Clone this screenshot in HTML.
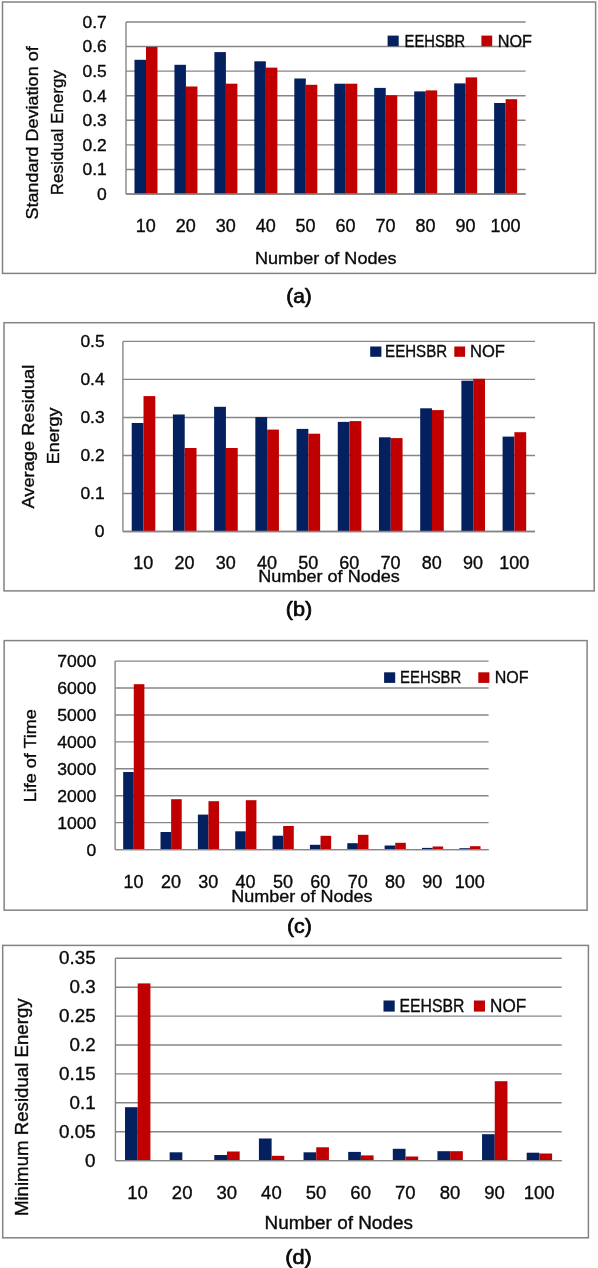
<!DOCTYPE html>
<html lang="en"><head><meta charset="utf-8"><title>Figure</title>
<style>
html,body{margin:0;padding:0;background:#fff}
svg{display:block}
svg text{font-family:"Liberation Sans", Arial, sans-serif;fill:#0a0a0a}
</style></head><body>
<svg width="598" height="1268" viewBox="0 0 598 1268">
<rect width="598" height="1268" fill="#fff"/>
<rect x="2.5" y="2.0" width="593.10" height="271.40" fill="#fff" stroke="#838383" stroke-width="1.5"/>
<line x1="126.00" y1="22.00" x2="525.60" y2="22.00" stroke="#868686" stroke-width="1.4"/>
<line x1="126.00" y1="46.57" x2="525.60" y2="46.57" stroke="#868686" stroke-width="1.4"/>
<line x1="126.00" y1="71.14" x2="525.60" y2="71.14" stroke="#868686" stroke-width="1.4"/>
<line x1="126.00" y1="95.71" x2="525.60" y2="95.71" stroke="#868686" stroke-width="1.4"/>
<line x1="126.00" y1="120.29" x2="525.60" y2="120.29" stroke="#868686" stroke-width="1.4"/>
<line x1="126.00" y1="144.86" x2="525.60" y2="144.86" stroke="#868686" stroke-width="1.4"/>
<line x1="126.00" y1="169.43" x2="525.60" y2="169.43" stroke="#868686" stroke-width="1.4"/>
<line x1="126.00" y1="194.00" x2="525.60" y2="194.00" stroke="#868686" stroke-width="1.4"/>
<line x1="126.00" y1="22.00" x2="126.00" y2="194.00" stroke="#868686" stroke-width="1.4"/>
<text x="106.80" y="27.90" font-size="17.0" text-anchor="end" textLength="24.20" lengthAdjust="spacingAndGlyphs" stroke="#0a0a0a" stroke-width="0.35">0.7</text>
<text x="106.80" y="52.47" font-size="17.0" text-anchor="end" textLength="24.20" lengthAdjust="spacingAndGlyphs" stroke="#0a0a0a" stroke-width="0.35">0.6</text>
<text x="106.80" y="77.04" font-size="17.0" text-anchor="end" textLength="24.20" lengthAdjust="spacingAndGlyphs" stroke="#0a0a0a" stroke-width="0.35">0.5</text>
<text x="106.80" y="101.61" font-size="17.0" text-anchor="end" textLength="24.20" lengthAdjust="spacingAndGlyphs" stroke="#0a0a0a" stroke-width="0.35">0.4</text>
<text x="106.80" y="126.19" font-size="17.0" text-anchor="end" textLength="24.20" lengthAdjust="spacingAndGlyphs" stroke="#0a0a0a" stroke-width="0.35">0.3</text>
<text x="106.80" y="150.76" font-size="17.0" text-anchor="end" textLength="24.20" lengthAdjust="spacingAndGlyphs" stroke="#0a0a0a" stroke-width="0.35">0.2</text>
<text x="106.80" y="175.33" font-size="17.0" text-anchor="end" textLength="24.20" lengthAdjust="spacingAndGlyphs" stroke="#0a0a0a" stroke-width="0.35">0.1</text>
<text x="106.80" y="199.90" font-size="17.0" text-anchor="end" textLength="9.75" lengthAdjust="spacingAndGlyphs" stroke="#0a0a0a" stroke-width="0.35">0</text>
<rect x="134.48" y="59.80" width="11.50" height="134.20" fill="#04205f"/>
<rect x="145.98" y="46.90" width="11.50" height="147.10" fill="#c00000"/>
<rect x="174.44" y="64.80" width="11.50" height="129.20" fill="#04205f"/>
<rect x="185.94" y="86.50" width="11.50" height="107.50" fill="#c00000"/>
<rect x="214.40" y="52.10" width="11.50" height="141.90" fill="#04205f"/>
<rect x="225.90" y="83.70" width="11.50" height="110.30" fill="#c00000"/>
<rect x="254.36" y="61.30" width="11.50" height="132.70" fill="#04205f"/>
<rect x="265.86" y="67.60" width="11.50" height="126.40" fill="#c00000"/>
<rect x="294.32" y="78.50" width="11.50" height="115.50" fill="#04205f"/>
<rect x="305.82" y="84.80" width="11.50" height="109.20" fill="#c00000"/>
<rect x="334.28" y="83.70" width="11.50" height="110.30" fill="#04205f"/>
<rect x="345.78" y="83.70" width="11.50" height="110.30" fill="#c00000"/>
<rect x="374.24" y="87.90" width="11.50" height="106.10" fill="#04205f"/>
<rect x="385.74" y="95.30" width="11.50" height="98.70" fill="#c00000"/>
<rect x="414.20" y="91.40" width="11.50" height="102.60" fill="#04205f"/>
<rect x="425.70" y="90.40" width="11.50" height="103.60" fill="#c00000"/>
<rect x="454.16" y="83.40" width="11.50" height="110.60" fill="#04205f"/>
<rect x="465.66" y="77.40" width="11.50" height="116.60" fill="#c00000"/>
<rect x="494.12" y="103.00" width="11.50" height="91.00" fill="#04205f"/>
<rect x="505.62" y="99.20" width="11.50" height="94.80" fill="#c00000"/>
<line x1="126.00" y1="194.00" x2="525.60" y2="194.00" stroke="#868686" stroke-width="1.4"/>
<text x="145.78" y="231.80" font-size="17.5" text-anchor="middle" textLength="20.00" lengthAdjust="spacingAndGlyphs" stroke="#0a0a0a" stroke-width="0.35">10</text>
<text x="185.74" y="231.80" font-size="17.5" text-anchor="middle" textLength="20.00" lengthAdjust="spacingAndGlyphs" stroke="#0a0a0a" stroke-width="0.35">20</text>
<text x="225.70" y="231.80" font-size="17.5" text-anchor="middle" textLength="20.00" lengthAdjust="spacingAndGlyphs" stroke="#0a0a0a" stroke-width="0.35">30</text>
<text x="265.66" y="231.80" font-size="17.5" text-anchor="middle" textLength="20.00" lengthAdjust="spacingAndGlyphs" stroke="#0a0a0a" stroke-width="0.35">40</text>
<text x="305.62" y="231.80" font-size="17.5" text-anchor="middle" textLength="20.00" lengthAdjust="spacingAndGlyphs" stroke="#0a0a0a" stroke-width="0.35">50</text>
<text x="345.58" y="231.80" font-size="17.5" text-anchor="middle" textLength="20.00" lengthAdjust="spacingAndGlyphs" stroke="#0a0a0a" stroke-width="0.35">60</text>
<text x="385.54" y="231.80" font-size="17.5" text-anchor="middle" textLength="20.00" lengthAdjust="spacingAndGlyphs" stroke="#0a0a0a" stroke-width="0.35">70</text>
<text x="425.50" y="231.80" font-size="17.5" text-anchor="middle" textLength="20.00" lengthAdjust="spacingAndGlyphs" stroke="#0a0a0a" stroke-width="0.35">80</text>
<text x="465.46" y="231.80" font-size="17.5" text-anchor="middle" textLength="20.00" lengthAdjust="spacingAndGlyphs" stroke="#0a0a0a" stroke-width="0.35">90</text>
<text x="505.42" y="231.80" font-size="17.5" text-anchor="middle" textLength="30.00" lengthAdjust="spacingAndGlyphs" stroke="#0a0a0a" stroke-width="0.35">100</text>
<text x="255.00" y="263.90" font-size="17.4" textLength="141.60" lengthAdjust="spacingAndGlyphs" stroke="#0a0a0a" stroke-width="0.35">Number of Nodes</text>
<text transform="translate(38.10 219.60) rotate(-90)" font-size="17.4" textLength="173.30" lengthAdjust="spacingAndGlyphs" stroke="#0a0a0a" stroke-width="0.35">Standard Deviation of</text>
<text transform="translate(62.80 195.30) rotate(-90)" font-size="17.4" textLength="125.40" lengthAdjust="spacingAndGlyphs" stroke="#0a0a0a" stroke-width="0.35">Residual Energy</text>
<rect x="387.60" y="35.60" width="11.10" height="10.60" fill="#04205f"/>
<rect x="481.40" y="35.60" width="10.80" height="10.60" fill="#c00000"/>
<text x="404.60" y="46.60" font-size="16.6" textLength="60.60" lengthAdjust="spacingAndGlyphs" stroke="#0a0a0a" stroke-width="0.35">EEHSBR</text>
<text x="497.80" y="46.60" font-size="16.6" textLength="34.20" lengthAdjust="spacingAndGlyphs" stroke="#0a0a0a" stroke-width="0.35">NOF</text>
<text x="299.05" y="302.80" font-size="19.3" text-anchor="middle" textLength="25.50" lengthAdjust="spacingAndGlyphs" stroke="#0a0a0a" stroke-width="0.7" stroke-linejoin="round">(a)</text>
<rect x="4.0" y="322.7" width="590.20" height="268.20" fill="#fff" stroke="#838383" stroke-width="1.5"/>
<line x1="122.90" y1="341.40" x2="535.00" y2="341.40" stroke="#868686" stroke-width="1.4"/>
<line x1="122.90" y1="379.42" x2="535.00" y2="379.42" stroke="#868686" stroke-width="1.4"/>
<line x1="122.90" y1="417.44" x2="535.00" y2="417.44" stroke="#868686" stroke-width="1.4"/>
<line x1="122.90" y1="455.46" x2="535.00" y2="455.46" stroke="#868686" stroke-width="1.4"/>
<line x1="122.90" y1="493.48" x2="535.00" y2="493.48" stroke="#868686" stroke-width="1.4"/>
<line x1="122.90" y1="531.50" x2="535.00" y2="531.50" stroke="#868686" stroke-width="1.4"/>
<line x1="122.90" y1="341.40" x2="122.90" y2="531.50" stroke="#868686" stroke-width="1.4"/>
<text x="104.60" y="347.30" font-size="17.0" text-anchor="end" textLength="24.20" lengthAdjust="spacingAndGlyphs" stroke="#0a0a0a" stroke-width="0.35">0.5</text>
<text x="104.60" y="385.32" font-size="17.0" text-anchor="end" textLength="24.20" lengthAdjust="spacingAndGlyphs" stroke="#0a0a0a" stroke-width="0.35">0.4</text>
<text x="104.60" y="423.34" font-size="17.0" text-anchor="end" textLength="24.20" lengthAdjust="spacingAndGlyphs" stroke="#0a0a0a" stroke-width="0.35">0.3</text>
<text x="104.60" y="461.36" font-size="17.0" text-anchor="end" textLength="24.20" lengthAdjust="spacingAndGlyphs" stroke="#0a0a0a" stroke-width="0.35">0.2</text>
<text x="104.60" y="499.38" font-size="17.0" text-anchor="end" textLength="24.20" lengthAdjust="spacingAndGlyphs" stroke="#0a0a0a" stroke-width="0.35">0.1</text>
<text x="104.60" y="537.40" font-size="17.0" text-anchor="end" textLength="9.75" lengthAdjust="spacingAndGlyphs" stroke="#0a0a0a" stroke-width="0.35">0</text>
<rect x="131.71" y="423.00" width="11.80" height="108.50" fill="#04205f"/>
<rect x="143.51" y="396.10" width="11.80" height="135.40" fill="#c00000"/>
<rect x="172.92" y="414.50" width="11.80" height="117.00" fill="#04205f"/>
<rect x="184.72" y="448.00" width="11.80" height="83.50" fill="#c00000"/>
<rect x="214.12" y="406.80" width="11.80" height="124.70" fill="#04205f"/>
<rect x="225.93" y="448.00" width="11.80" height="83.50" fill="#c00000"/>
<rect x="255.34" y="417.10" width="11.80" height="114.40" fill="#04205f"/>
<rect x="267.13" y="429.60" width="11.80" height="101.90" fill="#c00000"/>
<rect x="296.55" y="428.90" width="11.80" height="102.60" fill="#04205f"/>
<rect x="308.35" y="433.70" width="11.80" height="97.80" fill="#c00000"/>
<rect x="337.76" y="421.90" width="11.80" height="109.60" fill="#04205f"/>
<rect x="349.56" y="421.10" width="11.80" height="110.40" fill="#c00000"/>
<rect x="378.96" y="437.30" width="11.80" height="94.20" fill="#04205f"/>
<rect x="390.76" y="438.10" width="11.80" height="93.40" fill="#c00000"/>
<rect x="420.18" y="408.30" width="11.80" height="123.20" fill="#04205f"/>
<rect x="431.98" y="410.10" width="11.80" height="121.40" fill="#c00000"/>
<rect x="461.39" y="380.70" width="11.80" height="150.80" fill="#04205f"/>
<rect x="473.19" y="378.80" width="11.80" height="152.70" fill="#c00000"/>
<rect x="502.59" y="436.60" width="11.80" height="94.90" fill="#04205f"/>
<rect x="514.39" y="432.20" width="11.80" height="99.30" fill="#c00000"/>
<line x1="122.90" y1="531.50" x2="535.00" y2="531.50" stroke="#868686" stroke-width="1.4"/>
<text x="143.31" y="568.80" font-size="17.5" text-anchor="middle" textLength="20.00" lengthAdjust="spacingAndGlyphs" stroke="#0a0a0a" stroke-width="0.35">10</text>
<text x="184.52" y="568.80" font-size="17.5" text-anchor="middle" textLength="20.00" lengthAdjust="spacingAndGlyphs" stroke="#0a0a0a" stroke-width="0.35">20</text>
<text x="225.73" y="568.80" font-size="17.5" text-anchor="middle" textLength="20.00" lengthAdjust="spacingAndGlyphs" stroke="#0a0a0a" stroke-width="0.35">30</text>
<text x="266.94" y="568.80" font-size="17.5" text-anchor="middle" textLength="20.00" lengthAdjust="spacingAndGlyphs" stroke="#0a0a0a" stroke-width="0.35">40</text>
<text x="308.15" y="568.80" font-size="17.5" text-anchor="middle" textLength="20.00" lengthAdjust="spacingAndGlyphs" stroke="#0a0a0a" stroke-width="0.35">50</text>
<text x="349.36" y="568.80" font-size="17.5" text-anchor="middle" textLength="20.00" lengthAdjust="spacingAndGlyphs" stroke="#0a0a0a" stroke-width="0.35">60</text>
<text x="390.56" y="568.80" font-size="17.5" text-anchor="middle" textLength="20.00" lengthAdjust="spacingAndGlyphs" stroke="#0a0a0a" stroke-width="0.35">70</text>
<text x="431.78" y="568.80" font-size="17.5" text-anchor="middle" textLength="20.00" lengthAdjust="spacingAndGlyphs" stroke="#0a0a0a" stroke-width="0.35">80</text>
<text x="472.99" y="568.80" font-size="17.5" text-anchor="middle" textLength="20.00" lengthAdjust="spacingAndGlyphs" stroke="#0a0a0a" stroke-width="0.35">90</text>
<text x="514.19" y="568.80" font-size="17.5" text-anchor="middle" textLength="30.00" lengthAdjust="spacingAndGlyphs" stroke="#0a0a0a" stroke-width="0.35">100</text>
<text x="258.30" y="582.40" font-size="17.4" textLength="141.60" lengthAdjust="spacingAndGlyphs" stroke="#0a0a0a" stroke-width="0.35">Number of Nodes</text>
<text transform="translate(33.70 508.50) rotate(-90)" font-size="17.4" textLength="143.70" lengthAdjust="spacingAndGlyphs" stroke="#0a0a0a" stroke-width="0.35">Average Residual</text>
<text transform="translate(58.60 464.20) rotate(-90)" font-size="17.4" textLength="56.60" lengthAdjust="spacingAndGlyphs" stroke="#0a0a0a" stroke-width="0.35">Energy</text>
<rect x="370.20" y="346.50" width="11.20" height="10.30" fill="#04205f"/>
<rect x="454.30" y="346.50" width="10.80" height="10.30" fill="#c00000"/>
<text x="385.10" y="357.00" font-size="16.6" textLength="62.00" lengthAdjust="spacingAndGlyphs" stroke="#0a0a0a" stroke-width="0.35">EEHSBR</text>
<text x="470.00" y="357.00" font-size="16.6" textLength="35.00" lengthAdjust="spacingAndGlyphs" stroke="#0a0a0a" stroke-width="0.35">NOF</text>
<text x="299.05" y="615.60" font-size="19.3" text-anchor="middle" textLength="26.50" lengthAdjust="spacingAndGlyphs" stroke="#0a0a0a" stroke-width="0.7" stroke-linejoin="round">(b)</text>
<rect x="4.15" y="640.6" width="582.95" height="269.60" fill="#fff" stroke="#838383" stroke-width="1.5"/>
<line x1="115.10" y1="661.10" x2="488.60" y2="661.10" stroke="#868686" stroke-width="1.4"/>
<line x1="115.10" y1="688.03" x2="488.60" y2="688.03" stroke="#868686" stroke-width="1.4"/>
<line x1="115.10" y1="714.96" x2="488.60" y2="714.96" stroke="#868686" stroke-width="1.4"/>
<line x1="115.10" y1="741.89" x2="488.60" y2="741.89" stroke="#868686" stroke-width="1.4"/>
<line x1="115.10" y1="768.81" x2="488.60" y2="768.81" stroke="#868686" stroke-width="1.4"/>
<line x1="115.10" y1="795.74" x2="488.60" y2="795.74" stroke="#868686" stroke-width="1.4"/>
<line x1="115.10" y1="822.67" x2="488.60" y2="822.67" stroke="#868686" stroke-width="1.4"/>
<line x1="115.10" y1="849.60" x2="488.60" y2="849.60" stroke="#868686" stroke-width="1.4"/>
<line x1="115.10" y1="661.10" x2="115.10" y2="849.60" stroke="#868686" stroke-width="1.4"/>
<text x="96.30" y="667.00" font-size="17.0" text-anchor="end" textLength="39.00" lengthAdjust="spacingAndGlyphs" stroke="#0a0a0a" stroke-width="0.35">7000</text>
<text x="96.30" y="693.93" font-size="17.0" text-anchor="end" textLength="39.00" lengthAdjust="spacingAndGlyphs" stroke="#0a0a0a" stroke-width="0.35">6000</text>
<text x="96.30" y="720.86" font-size="17.0" text-anchor="end" textLength="39.00" lengthAdjust="spacingAndGlyphs" stroke="#0a0a0a" stroke-width="0.35">5000</text>
<text x="96.30" y="747.79" font-size="17.0" text-anchor="end" textLength="39.00" lengthAdjust="spacingAndGlyphs" stroke="#0a0a0a" stroke-width="0.35">4000</text>
<text x="96.30" y="774.71" font-size="17.0" text-anchor="end" textLength="39.00" lengthAdjust="spacingAndGlyphs" stroke="#0a0a0a" stroke-width="0.35">3000</text>
<text x="96.30" y="801.64" font-size="17.0" text-anchor="end" textLength="39.00" lengthAdjust="spacingAndGlyphs" stroke="#0a0a0a" stroke-width="0.35">2000</text>
<text x="96.30" y="828.57" font-size="17.0" text-anchor="end" textLength="39.00" lengthAdjust="spacingAndGlyphs" stroke="#0a0a0a" stroke-width="0.35">1000</text>
<text x="96.30" y="855.50" font-size="17.0" text-anchor="end" textLength="9.75" lengthAdjust="spacingAndGlyphs" stroke="#0a0a0a" stroke-width="0.35">0</text>
<rect x="123.17" y="772.00" width="10.60" height="77.60" fill="#04205f"/>
<rect x="133.78" y="684.20" width="10.60" height="165.40" fill="#c00000"/>
<rect x="160.52" y="832.00" width="10.60" height="17.60" fill="#04205f"/>
<rect x="171.12" y="799.20" width="10.60" height="50.40" fill="#c00000"/>
<rect x="197.88" y="814.60" width="10.60" height="35.00" fill="#04205f"/>
<rect x="208.47" y="801.20" width="10.60" height="48.40" fill="#c00000"/>
<rect x="235.22" y="831.30" width="10.60" height="18.30" fill="#04205f"/>
<rect x="245.82" y="800.20" width="10.60" height="49.40" fill="#c00000"/>
<rect x="272.57" y="835.70" width="10.60" height="13.90" fill="#04205f"/>
<rect x="283.18" y="826.00" width="10.60" height="23.60" fill="#c00000"/>
<rect x="309.93" y="844.80" width="10.60" height="4.80" fill="#04205f"/>
<rect x="320.53" y="835.80" width="10.60" height="13.80" fill="#c00000"/>
<rect x="347.28" y="843.20" width="10.60" height="6.40" fill="#04205f"/>
<rect x="357.88" y="834.80" width="10.60" height="14.80" fill="#c00000"/>
<rect x="384.62" y="845.50" width="10.60" height="4.10" fill="#04205f"/>
<rect x="395.22" y="842.80" width="10.60" height="6.80" fill="#c00000"/>
<rect x="421.97" y="847.90" width="10.60" height="1.70" fill="#04205f"/>
<rect x="432.57" y="846.50" width="10.60" height="3.10" fill="#c00000"/>
<rect x="459.32" y="848.20" width="10.60" height="1.40" fill="#04205f"/>
<rect x="469.93" y="846.20" width="10.60" height="3.40" fill="#c00000"/>
<line x1="115.10" y1="849.60" x2="488.60" y2="849.60" stroke="#868686" stroke-width="1.4"/>
<text x="133.58" y="887.50" font-size="17.5" text-anchor="middle" textLength="20.00" lengthAdjust="spacingAndGlyphs" stroke="#0a0a0a" stroke-width="0.35">10</text>
<text x="170.93" y="887.50" font-size="17.5" text-anchor="middle" textLength="20.00" lengthAdjust="spacingAndGlyphs" stroke="#0a0a0a" stroke-width="0.35">20</text>
<text x="208.28" y="887.50" font-size="17.5" text-anchor="middle" textLength="20.00" lengthAdjust="spacingAndGlyphs" stroke="#0a0a0a" stroke-width="0.35">30</text>
<text x="245.62" y="887.50" font-size="17.5" text-anchor="middle" textLength="20.00" lengthAdjust="spacingAndGlyphs" stroke="#0a0a0a" stroke-width="0.35">40</text>
<text x="282.98" y="887.50" font-size="17.5" text-anchor="middle" textLength="20.00" lengthAdjust="spacingAndGlyphs" stroke="#0a0a0a" stroke-width="0.35">50</text>
<text x="320.32" y="887.50" font-size="17.5" text-anchor="middle" textLength="20.00" lengthAdjust="spacingAndGlyphs" stroke="#0a0a0a" stroke-width="0.35">60</text>
<text x="357.68" y="887.50" font-size="17.5" text-anchor="middle" textLength="20.00" lengthAdjust="spacingAndGlyphs" stroke="#0a0a0a" stroke-width="0.35">70</text>
<text x="395.03" y="887.50" font-size="17.5" text-anchor="middle" textLength="20.00" lengthAdjust="spacingAndGlyphs" stroke="#0a0a0a" stroke-width="0.35">80</text>
<text x="432.38" y="887.50" font-size="17.5" text-anchor="middle" textLength="20.00" lengthAdjust="spacingAndGlyphs" stroke="#0a0a0a" stroke-width="0.35">90</text>
<text x="469.72" y="887.50" font-size="17.5" text-anchor="middle" textLength="30.00" lengthAdjust="spacingAndGlyphs" stroke="#0a0a0a" stroke-width="0.35">100</text>
<text x="231.20" y="902.10" font-size="17.4" textLength="141.40" lengthAdjust="spacingAndGlyphs" stroke="#0a0a0a" stroke-width="0.35">Number of Nodes</text>
<text transform="translate(35.80 802.30) rotate(-90)" font-size="17.4" textLength="93.20" lengthAdjust="spacingAndGlyphs" stroke="#0a0a0a" stroke-width="0.35">Life of Time</text>
<rect x="384.10" y="672.30" width="11.10" height="10.60" fill="#04205f"/>
<rect x="478.30" y="672.30" width="11.10" height="10.60" fill="#c00000"/>
<text x="400.00" y="683.30" font-size="16.6" textLength="61.30" lengthAdjust="spacingAndGlyphs" stroke="#0a0a0a" stroke-width="0.35">EEHSBR</text>
<text x="494.80" y="683.30" font-size="16.6" textLength="33.80" lengthAdjust="spacingAndGlyphs" stroke="#0a0a0a" stroke-width="0.35">NOF</text>
<text x="299.45" y="933.10" font-size="19.3" text-anchor="middle" textLength="24.90" lengthAdjust="spacingAndGlyphs" stroke="#0a0a0a" stroke-width="0.7" stroke-linejoin="round">(c)</text>
<rect x="2.7" y="945.4" width="585.70" height="292.40" fill="#fff" stroke="#838383" stroke-width="1.5"/>
<line x1="115.40" y1="958.30" x2="561.70" y2="958.30" stroke="#868686" stroke-width="1.4"/>
<line x1="115.40" y1="987.20" x2="561.70" y2="987.20" stroke="#868686" stroke-width="1.4"/>
<line x1="115.40" y1="1016.10" x2="561.70" y2="1016.10" stroke="#868686" stroke-width="1.4"/>
<line x1="115.40" y1="1045.00" x2="561.70" y2="1045.00" stroke="#868686" stroke-width="1.4"/>
<line x1="115.40" y1="1073.90" x2="561.70" y2="1073.90" stroke="#868686" stroke-width="1.4"/>
<line x1="115.40" y1="1102.80" x2="561.70" y2="1102.80" stroke="#868686" stroke-width="1.4"/>
<line x1="115.40" y1="1131.70" x2="561.70" y2="1131.70" stroke="#868686" stroke-width="1.4"/>
<line x1="115.40" y1="1160.60" x2="561.70" y2="1160.60" stroke="#868686" stroke-width="1.4"/>
<line x1="115.40" y1="958.30" x2="115.40" y2="1160.60" stroke="#868686" stroke-width="1.4"/>
<text x="95.60" y="964.40" font-size="18.5" text-anchor="end" textLength="36.60" lengthAdjust="spacingAndGlyphs" stroke="#0a0a0a" stroke-width="0.35">0.35</text>
<text x="95.60" y="993.30" font-size="18.5" text-anchor="end" textLength="26.10" lengthAdjust="spacingAndGlyphs" stroke="#0a0a0a" stroke-width="0.35">0.3</text>
<text x="95.60" y="1022.20" font-size="18.5" text-anchor="end" textLength="36.60" lengthAdjust="spacingAndGlyphs" stroke="#0a0a0a" stroke-width="0.35">0.25</text>
<text x="95.60" y="1051.10" font-size="18.5" text-anchor="end" textLength="26.10" lengthAdjust="spacingAndGlyphs" stroke="#0a0a0a" stroke-width="0.35">0.2</text>
<text x="95.60" y="1080.00" font-size="18.5" text-anchor="end" textLength="36.60" lengthAdjust="spacingAndGlyphs" stroke="#0a0a0a" stroke-width="0.35">0.15</text>
<text x="95.60" y="1108.90" font-size="18.5" text-anchor="end" textLength="26.10" lengthAdjust="spacingAndGlyphs" stroke="#0a0a0a" stroke-width="0.35">0.1</text>
<text x="95.60" y="1137.80" font-size="18.5" text-anchor="end" textLength="36.60" lengthAdjust="spacingAndGlyphs" stroke="#0a0a0a" stroke-width="0.35">0.05</text>
<text x="95.60" y="1166.70" font-size="18.5" text-anchor="end" textLength="10.50" lengthAdjust="spacingAndGlyphs" stroke="#0a0a0a" stroke-width="0.35">0</text>
<rect x="125.02" y="1107.20" width="12.70" height="53.40" fill="#04205f"/>
<rect x="137.72" y="983.40" width="12.70" height="177.20" fill="#c00000"/>
<rect x="169.65" y="1152.30" width="12.70" height="8.30" fill="#04205f"/>
<rect x="214.28" y="1155.00" width="12.70" height="5.60" fill="#04205f"/>
<rect x="226.98" y="1151.50" width="12.70" height="9.10" fill="#c00000"/>
<rect x="258.91" y="1138.50" width="12.70" height="22.10" fill="#04205f"/>
<rect x="271.61" y="1155.80" width="12.70" height="4.80" fill="#c00000"/>
<rect x="303.54" y="1152.30" width="12.70" height="8.30" fill="#04205f"/>
<rect x="316.24" y="1147.30" width="12.70" height="13.30" fill="#c00000"/>
<rect x="348.17" y="1151.90" width="12.70" height="8.70" fill="#04205f"/>
<rect x="360.87" y="1155.40" width="12.70" height="5.20" fill="#c00000"/>
<rect x="392.80" y="1148.80" width="12.70" height="11.80" fill="#04205f"/>
<rect x="405.50" y="1156.50" width="12.70" height="4.10" fill="#c00000"/>
<rect x="437.43" y="1151.20" width="12.70" height="9.40" fill="#04205f"/>
<rect x="450.13" y="1151.20" width="12.70" height="9.40" fill="#c00000"/>
<rect x="482.06" y="1134.20" width="12.70" height="26.40" fill="#04205f"/>
<rect x="494.76" y="1081.20" width="12.70" height="79.40" fill="#c00000"/>
<rect x="526.69" y="1152.70" width="12.70" height="7.90" fill="#04205f"/>
<rect x="539.39" y="1153.50" width="12.70" height="7.10" fill="#c00000"/>
<line x1="115.40" y1="1160.60" x2="561.70" y2="1160.60" stroke="#868686" stroke-width="1.4"/>
<text x="137.52" y="1199.30" font-size="18.7" text-anchor="middle" textLength="20.60" lengthAdjust="spacingAndGlyphs" stroke="#0a0a0a" stroke-width="0.35">10</text>
<text x="182.15" y="1199.30" font-size="18.7" text-anchor="middle" textLength="20.60" lengthAdjust="spacingAndGlyphs" stroke="#0a0a0a" stroke-width="0.35">20</text>
<text x="226.78" y="1199.30" font-size="18.7" text-anchor="middle" textLength="20.60" lengthAdjust="spacingAndGlyphs" stroke="#0a0a0a" stroke-width="0.35">30</text>
<text x="271.41" y="1199.30" font-size="18.7" text-anchor="middle" textLength="20.60" lengthAdjust="spacingAndGlyphs" stroke="#0a0a0a" stroke-width="0.35">40</text>
<text x="316.04" y="1199.30" font-size="18.7" text-anchor="middle" textLength="20.60" lengthAdjust="spacingAndGlyphs" stroke="#0a0a0a" stroke-width="0.35">50</text>
<text x="360.67" y="1199.30" font-size="18.7" text-anchor="middle" textLength="20.60" lengthAdjust="spacingAndGlyphs" stroke="#0a0a0a" stroke-width="0.35">60</text>
<text x="405.30" y="1199.30" font-size="18.7" text-anchor="middle" textLength="20.60" lengthAdjust="spacingAndGlyphs" stroke="#0a0a0a" stroke-width="0.35">70</text>
<text x="449.93" y="1199.30" font-size="18.7" text-anchor="middle" textLength="20.60" lengthAdjust="spacingAndGlyphs" stroke="#0a0a0a" stroke-width="0.35">80</text>
<text x="494.56" y="1199.30" font-size="18.7" text-anchor="middle" textLength="20.60" lengthAdjust="spacingAndGlyphs" stroke="#0a0a0a" stroke-width="0.35">90</text>
<text x="539.19" y="1199.30" font-size="18.7" text-anchor="middle" textLength="30.90" lengthAdjust="spacingAndGlyphs" stroke="#0a0a0a" stroke-width="0.35">100</text>
<text x="264.60" y="1228.70" font-size="18.0" textLength="148.30" lengthAdjust="spacingAndGlyphs" stroke="#0a0a0a" stroke-width="0.35">Number of Nodes</text>
<text transform="translate(28.10 1216.10) rotate(-90)" font-size="18.0" textLength="217.70" lengthAdjust="spacingAndGlyphs" stroke="#0a0a0a" stroke-width="0.35">Minimum Residual Energy</text>
<rect x="383.50" y="1000.50" width="11.20" height="11.10" fill="#04205f"/>
<rect x="473.90" y="1000.50" width="11.10" height="11.10" fill="#c00000"/>
<text x="399.50" y="1012.10" font-size="18.1" textLength="64.90" lengthAdjust="spacingAndGlyphs" stroke="#0a0a0a" stroke-width="0.35">EEHSBR</text>
<text x="490.00" y="1012.10" font-size="18.1" textLength="36.20" lengthAdjust="spacingAndGlyphs" stroke="#0a0a0a" stroke-width="0.35">NOF</text>
<text x="298.50" y="1263.50" font-size="19.3" text-anchor="middle" textLength="26.60" lengthAdjust="spacingAndGlyphs" stroke="#0a0a0a" stroke-width="0.7" stroke-linejoin="round">(d)</text>
</svg>
</body></html>
